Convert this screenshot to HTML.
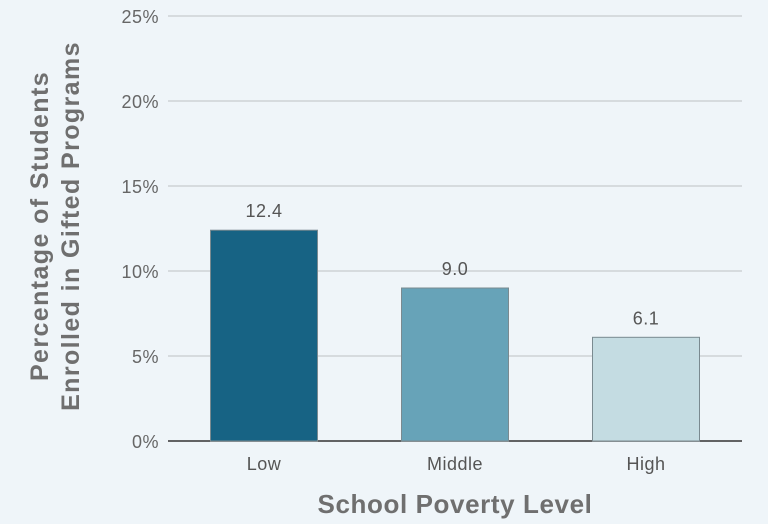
<!DOCTYPE html>
<html><head><meta charset="utf-8"><style>
body{margin:0;background:#eff5f9;}
svg{display:block;font-family:"Liberation Sans",sans-serif;}
</style></head><body>
<svg id="chart" width="768" height="524">
<rect width="768" height="524" fill="#eff5f9"/>
<g id="grid"></g><g id="bars"></g>
<text x="455" y="513" text-anchor="middle" font-size="26" font-weight="bold" letter-spacing="0.6" fill="#6f6f6f">School Poverty Level</text>
<text transform="translate(48,226) rotate(-90)" text-anchor="middle" font-size="25" font-weight="bold" letter-spacing="1.4" fill="#6f6f6f"><tspan x="0" dy="0">Percentage of Students</tspan><tspan x="0" dy="31">Enrolled in Gifted Programs</tspan></text>
</svg>
<script>
const categories=["Low","Middle","High"];
const values=[12.4,9.0,6.1];
const labels=["12.4","9.0","6.1"];
const ticks=[0,5,10,15,20,25];
const colors=["#176384","#67a3b8","#c4dce2"];
const NS="http://www.w3.org/2000/svg";
const y=v=>441-v*17;
const xc=i=>264+i*191;
function mk(t,a,p){const e=document.createElementNS(NS,t);for(const k in a)e.setAttribute(k,a[k]);p.appendChild(e);return e;}
const g=document.getElementById("grid"),b=document.getElementById("bars");
ticks.forEach(t=>{
 const l=mk("line",{x1:168,x2:742,y1:y(t),y2:y(t),stroke:t===0?"#333":"#c8cccf","stroke-width":t===0?1.5:1.2},g);
 
 
 const tx=mk("text",{x:159,y:y(t)+7,"text-anchor":"end","font-size":18,"letter-spacing":0.5,fill:"#666"},g);
 tx.textContent=t+"%";
 
 
});
categories.forEach((c,i)=>{
 const r=mk("rect",{x:xc(i)-53.5,y:y(values[i]),width:107,height:441-y(values[i]),fill:colors[i],stroke:"#7a8a90","stroke-width":1},b);
 
 
 const v=mk("text",{x:xc(i),y:y(values[i])-13,"text-anchor":"middle","font-size":18,"letter-spacing":0.5,fill:"#555"},b);
 v.textContent=labels[i];
 
 
 const xl=mk("text",{x:xc(i),y:470,"text-anchor":"middle","font-size":18,"letter-spacing":0.5,fill:"#555"},b);
 xl.textContent=c;
 
 
});
</script>
</body></html>
